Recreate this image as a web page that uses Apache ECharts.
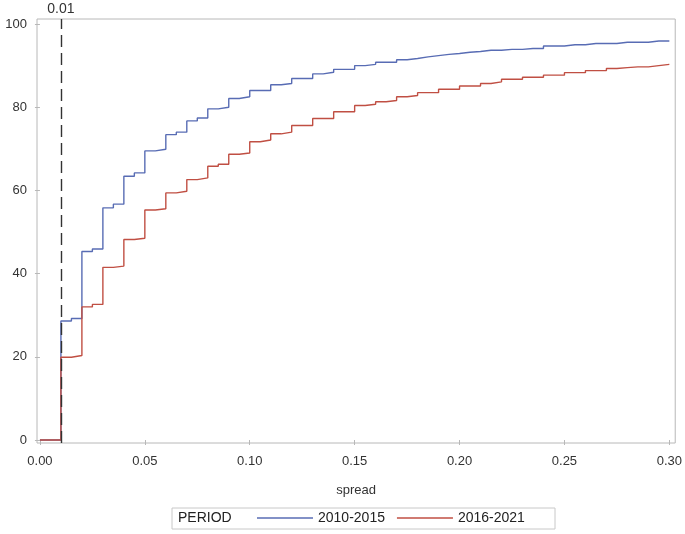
<!DOCTYPE html>
<html>
<head>
<meta charset="utf-8">
<script src="https://cdn.jsdelivr.net/npm/echarts@6/dist/echarts.min.js"></script>
<style>html,body{margin:0;padding:0;background:#fff}#c{width:685px;height:534px}</style>
</head>
<body>
<div id="c"></div>
<script>
const spread = [0, 0.01, 0.015, 0.02, 0.025, 0.03, 0.035, 0.04, 0.045, 0.05, 0.055, 0.06, 0.065, 0.07, 0.075, 0.08, 0.085, 0.09, 0.095, 0.10,
  0.105, 0.11, 0.115, 0.12, 0.125, 0.13, 0.135, 0.14, 0.145, 0.15, 0.155, 0.16, 0.165, 0.17, 0.175, 0.18, 0.185, 0.19, 0.195, 0.20,
  0.205, 0.21, 0.215, 0.22, 0.225, 0.23, 0.235, 0.24, 0.245, 0.25, 0.255, 0.26, 0.265, 0.27, 0.275, 0.28, 0.285, 0.29, 0.295, 0.30];
const period1 = [0, 28.6, 29.2, 45.3, 45.9, 55.8, 56.7, 63.4, 64.2, 69.5, 69.9, 73.4, 74.0, 76.7, 77.4, 79.6, 80.0, 82.1, 82.5, 84.0,
  84.0, 85.4, 85.7, 86.9, 86.9, 88.0, 88.4, 89.1, 89.1, 90.0, 90.3, 90.8, 90.8, 91.4, 91.7, 92.1, 92.4, 92.7, 92.9, 93.2,
  93.4, 93.7, 93.7, 93.9, 93.9, 94.1, 94.1, 94.7, 94.7, 95.0, 95.0, 95.3, 95.3, 95.3, 95.6, 95.6, 95.6, 95.9, 95.9, 96.0];
const period2 = [0, 19.9, 20.3, 32.0, 32.6, 41.5, 41.8, 48.2, 48.5, 55.3, 55.6, 59.4, 59.8, 62.6, 63.0, 65.8, 66.3, 68.7, 69.0, 71.7,
  72.1, 73.6, 74.0, 75.6, 75.6, 77.3, 77.3, 78.9, 78.9, 80.4, 80.7, 81.3, 81.6, 82.5, 82.8, 83.5, 83.5, 84.3, 84.3, 85.1,
  85.1, 85.7, 86.1, 86.7, 86.7, 87.2, 87.2, 87.7, 87.7, 88.3, 88.3, 88.8, 88.8, 89.3, 89.5, 89.7, 89.7, 90.0, 90.3, 90.3];
const seriesNames = ['2010-2015', '2016-2021'];
const xTicks = [0, 0.05, 0.10, 0.15, 0.20, 0.25, 0.30];
const yTicks = [0, 20, 40, 60, 80, 100];
const refValue = 0.01;

const narrow = "'Liberation Sans Narrow', 'Liberation Sans', Arial, sans-serif";
const regular = "'Liberation Sans', Arial, sans-serif";
const frameColor = '#b8b8b8';
const colors = ['#586cb4', '#c04f43'];

const chart = echarts.init(document.getElementById('c'));
chart.setOption({
  animation: false,
  grid: { left: 37, right: 8, top: 19, bottom: 91, show: true, borderColor: frameColor, borderWidth: 1, backgroundColor: 'transparent' },
  xAxis: {
    type: 'value', min: -0.0014, max: 0.3028,
    name: 'spread', nameLocation: 'middle', nameGap: 41,
    nameTextStyle: { fontFamily: narrow, fontSize: 13, color: '#333' },
    axisLine: { show: false },
    axisTick: { show: true, length: 5, lineStyle: { color: frameColor }, customValues: xTicks },
    axisLabel: { customValues: xTicks, formatter: v => v.toFixed(2), fontFamily: narrow, fontSize: 13, color: '#333', margin: 12 },
    splitLine: { show: false }
  },
  yAxis: {
    type: 'value', min: -0.72, max: 101.2,
    axisLine: { show: false },
    axisTick: { show: true, length: 5, lineStyle: { color: frameColor }, customValues: yTicks },
    axisLabel: { customValues: yTicks, fontFamily: narrow, fontSize: 13, color: '#333', margin: 10 },
    splitLine: { show: false }
  },
  legend: {
    left: 257, top: 511, padding: 0, itemGap: 12,
    icon: 'rect', itemWidth: 56, itemHeight: 1.3,
    textStyle: { fontFamily: regular, fontSize: 14, color: '#222' },
    data: seriesNames
  },
  graphic: [
    { type: 'rect', shape: { x: 172, y: 508, width: 383, height: 21 }, style: { fill: 'none', stroke: '#c8c8c8', lineWidth: 1 } },
    { type: 'text', x: 178, y: 518.5, style: { text: 'PERIOD', font: "14px 'Liberation Sans', Arial, sans-serif", fill: '#222', textVerticalAlign: 'middle' } }
  ],
  series: [
    {
      name: seriesNames[0], type: 'line', step: 'end', symbol: 'none',
      data: spread.map((x, i) => [x, period1[i]]),
      lineStyle: { color: colors[0], width: 1.4 }, itemStyle: { color: colors[0] },
      markLine: {
        silent: true, symbol: 'none',
        lineStyle: { color: '#333', width: 1.4, type: [12, 6] },
        label: { show: true, position: 'end', formatter: '0.01', fontFamily: regular, fontSize: 14, color: '#333', distance: 3 },
        data: [{ xAxis: refValue }]
      }
    },
    {
      name: seriesNames[1], type: 'line', step: 'end', symbol: 'none',
      data: spread.map((x, i) => [x, period2[i]]),
      lineStyle: { color: colors[1], width: 1.4 }, itemStyle: { color: colors[1] }
    }
  ]
});
</script>
</body>
</html>
